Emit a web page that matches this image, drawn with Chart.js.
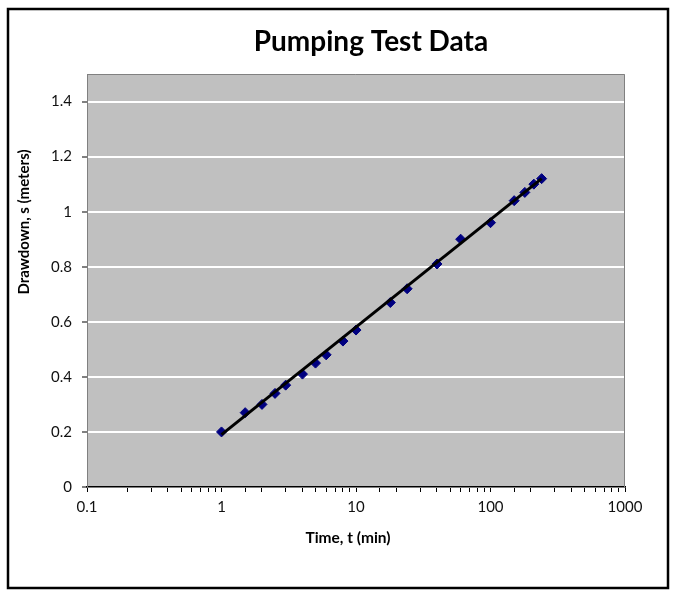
<!DOCTYPE html>
<html><head><meta charset="utf-8">
<script src="https://cdn.jsdelivr.net/npm/chart.js@4/dist/chart.umd.min.js"></script>
<style>html,body{margin:0;padding:0;background:#fff;}#wrap{width:676px;height:596px;}</style>
</head><body><div id="wrap"><canvas id="c" width="676" height="596"></canvas></div>
<script>
const chartTitle = "Pumping Test Data";
const xAxisTitle = "Time, t (min)";
const yAxisTitle = "Drawdown, s (meters)";
const timeMin = [1, 1.5, 2, 2.5, 3, 4, 5, 6, 8, 10, 18, 24, 40, 60, 100, 150, 180, 210, 240];
const drawdownM = [0.20, 0.27, 0.30, 0.34, 0.37, 0.41, 0.45, 0.48, 0.53, 0.57, 0.67, 0.72, 0.81, 0.90, 0.96, 1.04, 1.07, 1.10, 1.12];
const trendTime = [1, 240];
const trendDrawdown = [0.19, 1.12];
const yTicks = [0, 0.2, 0.4, 0.6, 0.8, 1, 1.2, 1.4];
const xRange = [0.1, 1000];
const yRange = [0, 1.5];

const FONT = "Lato, 'Open Sans', sans-serif";

const decor = {
  id: 'decor',
  beforeDraw(chart) {
    const {ctx, chartArea: a} = chart;
    ctx.save();
    ctx.fillStyle = '#ffffff';
    ctx.fillRect(0, 0, chart.width, chart.height);
    ctx.fillStyle = '#c0c0c0';
    ctx.fillRect(a.left, a.top, a.right - a.left, a.bottom - a.top);
    ctx.restore();
  },
  afterDraw(chart) {
    const {ctx, chartArea: a} = chart;
    ctx.save();
    ctx.strokeStyle = '#808080';
    ctx.lineWidth = 1;
    ctx.beginPath();
    ctx.moveTo(a.left, a.top + 0.5);
    ctx.lineTo(a.right - 0.5, a.top + 0.5);
    ctx.lineTo(a.right - 0.5, a.bottom);
    ctx.stroke();
    ctx.strokeStyle = '#000';
    ctx.lineWidth = 2.5;
    ctx.strokeRect(8, 9, 660, 579);
    ctx.fillStyle = '#000';
    ctx.textAlign = 'center';
    ctx.textBaseline = 'middle';
    ctx.font = "bold 28px " + FONT;
    ctx.fillText(chartTitle, 371, 42);
    ctx.font = "bold 15.5px " + FONT;
    ctx.fillText(xAxisTitle, 348, 538);
    ctx.translate(24, 222);
    ctx.rotate(-Math.PI / 2);
    ctx.font = "bold 15px " + FONT;
    ctx.fillText(yAxisTitle, 0, 0);
    ctx.restore();
  }
};

const isDecade = v => Math.abs(Math.log10(v) - Math.round(Math.log10(v))) < 1e-9;

new Chart(document.getElementById('c'), {
  type: 'scatter',
  data: {
    datasets: [
      {
        label: 'Trend',
        type: 'line',
        data: trendTime.map((t, i) => ({x: t, y: trendDrawdown[i]})),
        borderColor: '#000',
        borderWidth: 3,
        pointRadius: 0,
        showLine: true,
        fill: false,
        order: 0
      },
      {
        label: 'Drawdown',
        data: timeMin.map((t, i) => ({x: t, y: drawdownM[i]})),
        pointStyle: 'rectRot',
        pointRadius: 5,
        backgroundColor: '#000080',
        borderColor: '#000080',
        borderWidth: 1,
        order: 1
      }
    ]
  },
  options: {
    responsive: false,
    animation: false,
    devicePixelRatio: 1,
    layout: {padding: {left: 0, right: 51, top: 74, bottom: 0}},
    plugins: {legend: {display: false}, tooltip: {enabled: false}, title: {display: false}},
    scales: {
      x: {
        type: 'logarithmic',
        min: xRange[0], max: xRange[1],
        border: {color: '#000', width: 1.5},
        grid: {display: true, drawOnChartArea: false, drawTicks: true, tickLength: 5, color: '#000', lineWidth: 1},
        ticks: {
          autoSkip: false, maxRotation: 0, color: '#111', padding: 6,
          font: {family: FONT, size: 15},
          callback: (v) => isDecade(v) ? String(Number(v.toPrecision(3))) : ''
        },
        afterFit(s) { s.height = 109; }
      },
      y: {
        min: yRange[0], max: yRange[1],
        afterBuildTicks(s) { s.ticks = yTicks.map(v => ({value: v})); },
        border: {color: '#808080', width: 1},
        grid: {color: '#ffffff', lineWidth: 2, drawTicks: true, tickLength: 5, tickColor: '#808080'},
        ticks: {
          color: '#111', padding: 10,
          font: {family: FONT, size: 15},
          callback: v => String(Number(v.toFixed(1)))
        },
        afterFit(s) { s.width = 87; }
      }
    }
  },
  plugins: [decor]
});
</script></body></html>
